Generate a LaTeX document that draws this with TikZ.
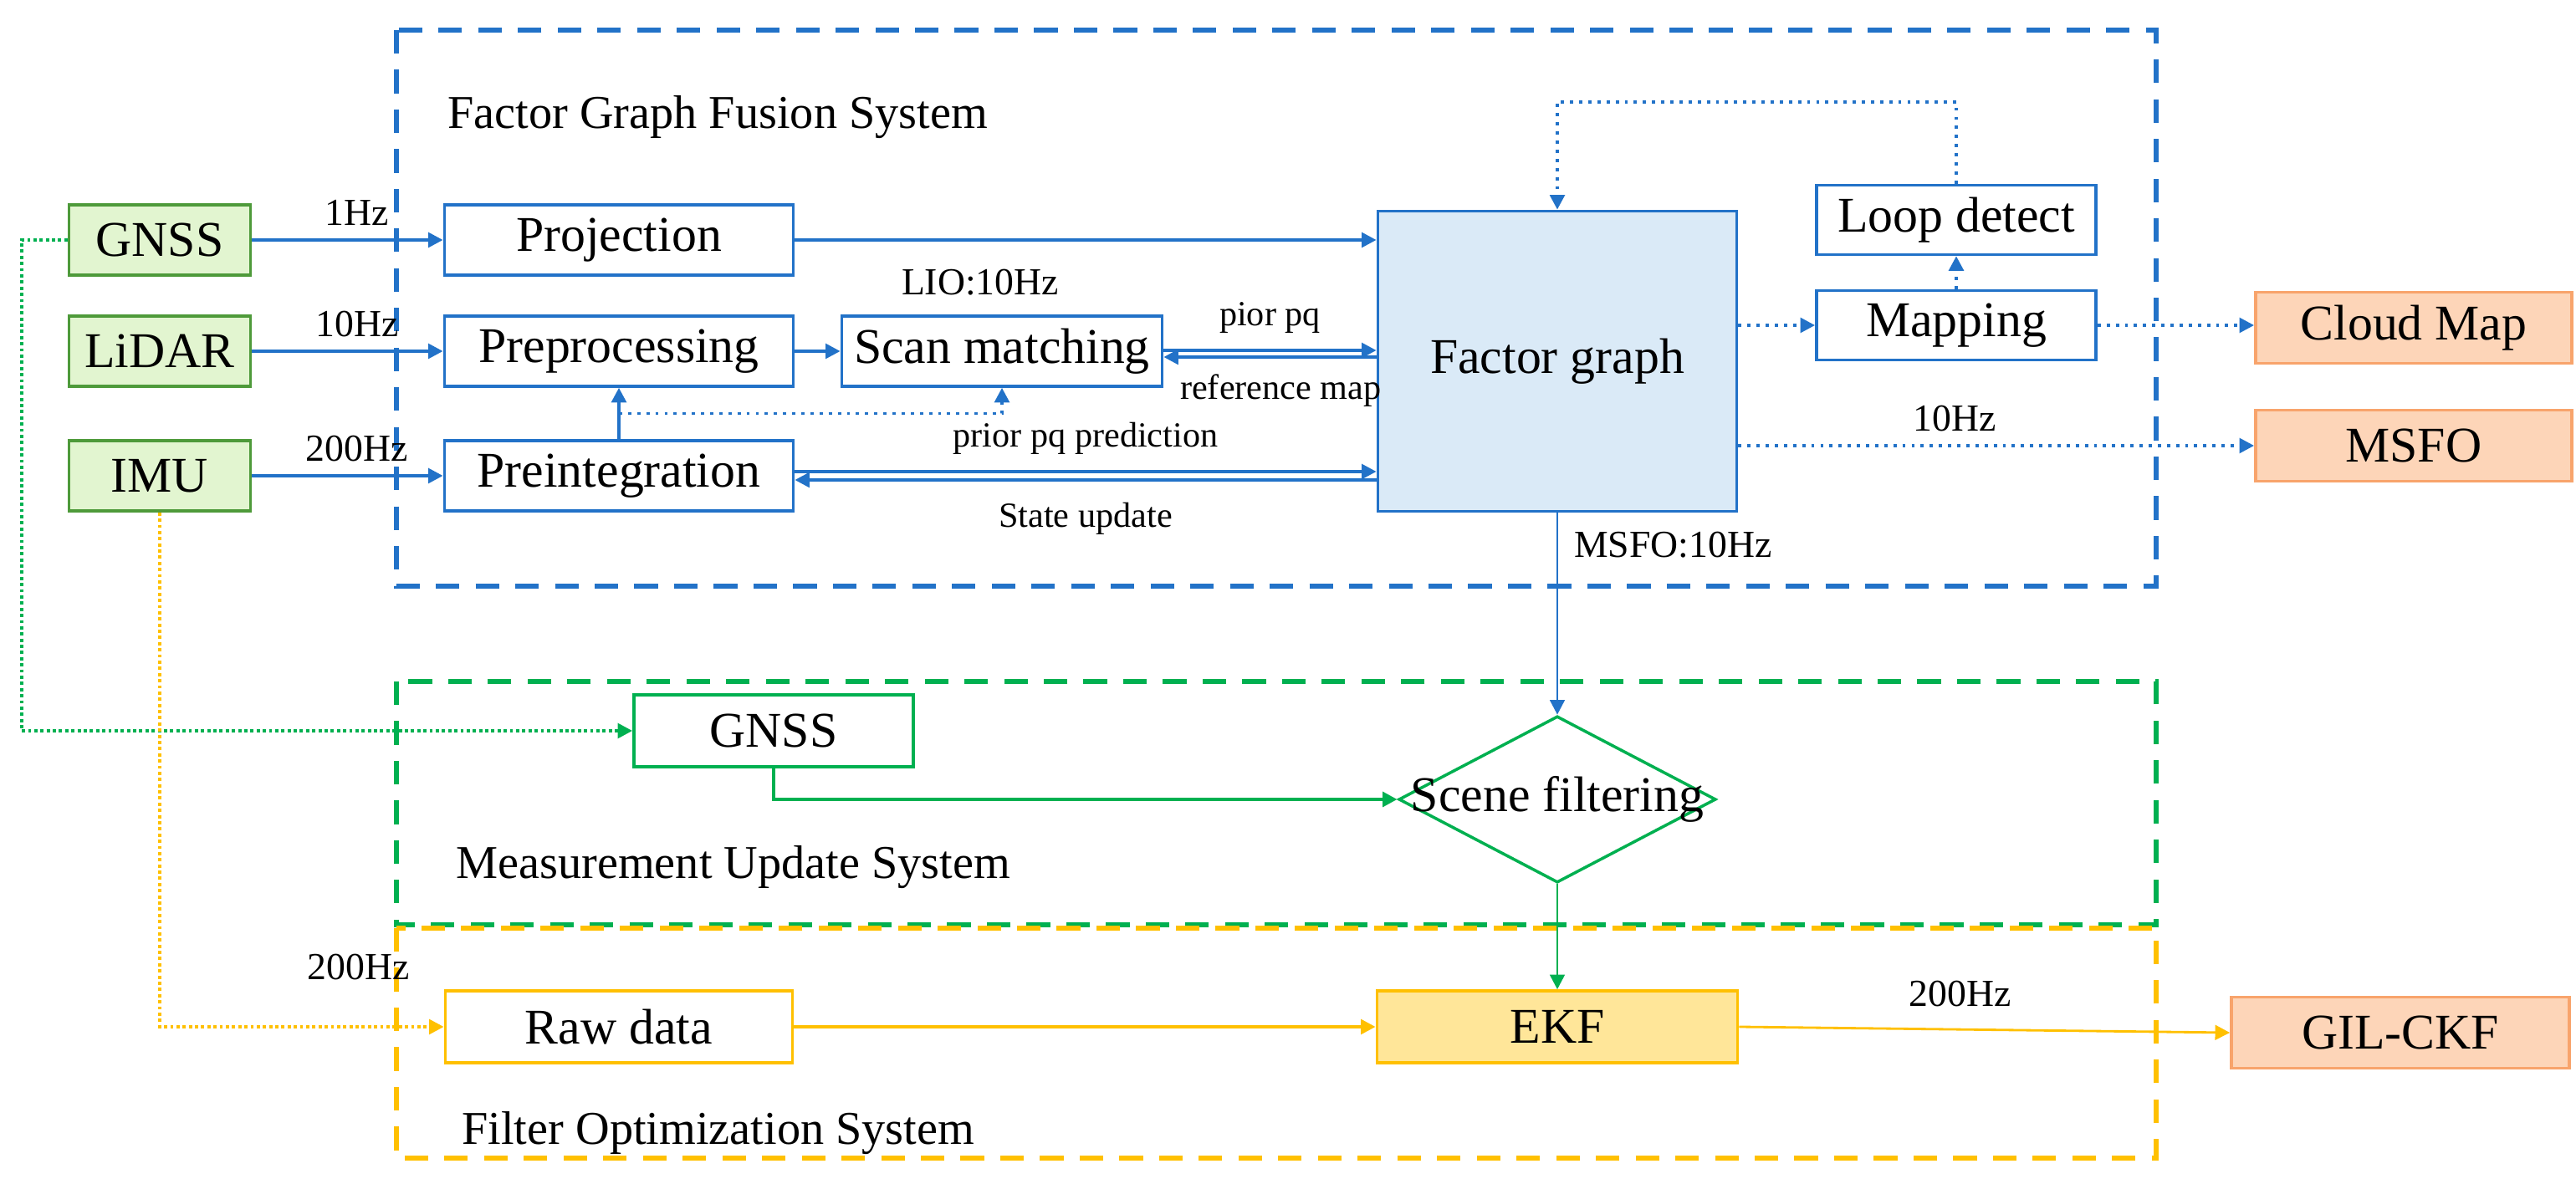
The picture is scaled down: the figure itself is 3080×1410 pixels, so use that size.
\documentclass[tikz,border=0pt]{standalone}
\usepackage{fontspec}
\setmainfont{Liberation Serif}
\usetikzlibrary{arrows.meta, shapes.geometric, calc}
\definecolor{fgblue}{HTML}{2272C8}
\definecolor{fgfill}{HTML}{DAEAF7}
\definecolor{ingreen}{HTML}{4E9A3A}
\definecolor{infill}{HTML}{E2F5D0}
\definecolor{mugreen}{HTML}{00B050}
\definecolor{foyellow}{HTML}{FFC000}
\definecolor{ekffill}{HTML}{FFE699}
\definecolor{outline}{HTML}{F8A46C}
\definecolor{outfill}{HTML}{FDD5B8}
\tikzset{
    box/.style={draw, line width=1pt, inner sep=0pt, font=\fontsize{17}{17}\selectfont},
    in-box/.style={box, draw=ingreen, fill=infill, minimum width=2.17cm, minimum height=0.84cm},
    fg-box/.style={box, draw=fgblue, minimum width=4.17cm, minimum height=0.84cm},
    out-box/.style={box, draw=outline, fill=outfill, minimum height=0.85cm},
    fo-box/.style={box, draw=foyellow, minimum width=4.15cm, minimum height=0.86cm},
    sysframe/.style={line width=1.8pt, dash pattern=on 8pt off 5.5pt},
    arr/.style={-{Triangle[width=5pt,length=5pt]}, line width=1.1pt, draw=fgblue},
    darr/.style={arr, dotted, line width=1.1pt},
    lbl/.style={font=\fontsize{13}{13}\selectfont},
    slbl/.style={font=\fontsize{12}{12}\selectfont},
    title/.style={anchor=west, font=\fontsize{16}{16}\selectfont},
}
\begin{document}
\begin{tikzpicture}[x=0.01cm, y=-0.01cm]
    \useasboundingbox (0,0) rectangle (3080,1410);

    % SYSTEM FRAMES
    \draw[sysframe, draw=fgblue]   (474,36)   rectangle (2578,701);
    \draw[sysframe, draw=mugreen]  (474,815)  rectangle (2578,1106);
    \draw[sysframe, draw=foyellow] (474,1110) rectangle (2578,1385);
    \node[title] (TFG) at (523,140)  {Factor Graph Fusion System};
    \node[title] (TMU) at (533,1037) {Measurement Update System};
    \node[title] (TFO) at (540,1355) {Filter Optimization System};

    % SENSORS
    \node[in-box] (GNSS)  at (191,287) {GNSS};
    \node[in-box] (LIDAR) at (191,420) {LiDAR};
    \node[in-box] (IMU)   at (191,569) {IMU};

    % FACTOR GRAPH FUSION SYSTEM
    \node[fg-box] (PROJ) at (740,287)  {Projection};
    \node[fg-box] (PREP) at (740,420)  {Preprocessing};
    \node[fg-box] (PREI) at (740,569)  {Preintegration};
    \node[fg-box, minimum width=3.83cm] (SCAN) at (1198,420) {Scan matching};
    \node[box, draw=fgblue, fill=fgfill, minimum width=4.29cm, minimum height=3.59cm] (FG) at (1862,432) {Factor graph};
    \node[fg-box, minimum width=3.34cm, minimum height=0.83cm] (LOOP) at (2339,263) {Loop detect};
    \node[fg-box, minimum width=3.34cm, minimum height=0.83cm] (MAP)  at (2339,389) {Mapping};

    % OUTPUTS
    \node[out-box, minimum width=3.78cm] (CLOUD) at (2886,392)  {Cloud Map};
    \node[out-box, minimum width=3.78cm] (MSFO)  at (2886,533)  {MSFO};
    \node[out-box, minimum width=4.04cm] (GIL)   at (2870,1235) {GIL-CKF};

    % MEASUREMENT UPDATE / FILTER
    \node[box, draw=mugreen, minimum width=3.34cm, minimum height=0.86cm] (GNSS2) at (925,874) {GNSS};
    \node[box, draw=mugreen, diamond, aspect=1.9, minimum width=3.79cm, minimum height=1.99cm] (SCENE) at (1862,956) {};
    \node[font=\fontsize{17}{17}\selectfont] (SCENET) at (SCENE.center) {Scene filtering};
    \node[fo-box] (RAW) at (740,1228) {Raw data};
    \node[fo-box, fill=ekffill, minimum width=4.31cm] (EKF) at (1862,1228) {EKF};

    % SENSOR WIRES
    \draw[arr] (GNSS.east) -- (PROJ.west) node[lbl, pos=0.55, above=1pt] {1Hz};
    \draw[arr] (LIDAR.east) -- (PREP.west) node[lbl, pos=0.55, above=1pt] {10Hz};
    \draw[arr] (IMU.east) -- (PREI.west) node[lbl, pos=0.55, above=1pt] {200Hz};

    % INTERNAL WIRES
    \draw[arr] (PROJ.east) -- (PROJ.east -| FG.west);
    \draw[arr] (PREP.east) -- (SCAN.west);
    \node[lbl] (LIO) at (1172,338) {LIO:10Hz};
    \draw[arr] ($(SCAN.east)+(0,-1)$) -- ($(SCAN.east -| FG.west)+(0,-1)$) node[slbl, midway, above=2pt] {pior pq};
    \draw[arr] ($(SCAN.east -| FG.west)+(0,7)$) -- ($(SCAN.east)+(0,7)$) node[slbl, pos=0.45, below=2pt] {reference map};
    \draw[arr] ($(PREI.east)+(0,-5)$) -- ($(PREI.east -| FG.west)+(0,-5)$) node[slbl, midway, above=2pt] {prior pq prediction};
    \draw[arr] ($(PREI.east -| FG.west)+(0,5)$) -- ($(PREI.east)+(0,5)$) node[slbl, midway, below=4pt] {State update};
    \draw[arr] (PREI.north) -- (PREP.south);
    \coordinate (BR) at ($(PREI.north)!0.5!(PREP.south)$);
    \draw[darr] (BR) -| (SCAN.south);
    \draw[darr] (FG.east |- MAP.west) -- (MAP.west);
    \draw[darr] (MAP.east) -- (MAP.east -| CLOUD.west);
    \draw[darr] (MAP.north) -- (LOOP.south);
    \draw[darr] (LOOP.north) -- ++(0,-98) -| (FG.north);
    \draw[darr] (FG.east |- MSFO.west) -- (MSFO.west) node[lbl, pos=0.42, above=1pt] {10Hz};
    \draw[arr, line width=0.8pt] (FG.south) -- (SCENE.north) node[lbl, pos=0.16, right=2pt] {MSFO:10Hz};

    % MEASUREMENT UPDATE WIRES
    \draw[arr, draw=mugreen, densely dotted] (GNSS.west) -- ++(-55,0) |- (GNSS2.west);
    \draw[arr, draw=mugreen, line width=1.4pt] (GNSS2.south) |- (SCENE.west);
    \draw[arr, draw=mugreen, line width=0.8pt] (SCENE.south) -- (EKF.north);

    % FILTER WIRES
    \draw[arr, draw=foyellow, densely dotted] (IMU.south) |- (RAW.west) node[lbl, pos=0.85, above=12pt] {200Hz};
    \draw[arr, draw=foyellow] (RAW.east) -- (EKF.west);
    \draw[arr, draw=foyellow, line width=0.8pt] (EKF.east) -- (GIL.west) node[lbl, pos=0.45, above=4pt] {200Hz};
\end{tikzpicture}
\end{document}
